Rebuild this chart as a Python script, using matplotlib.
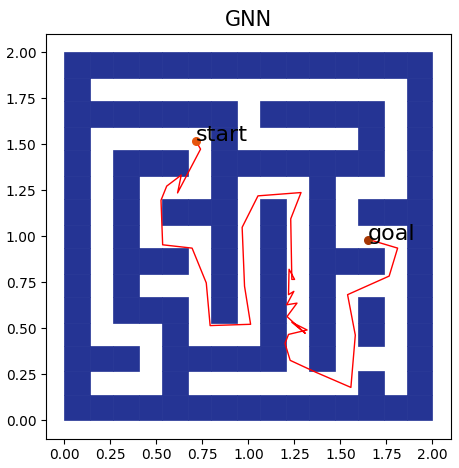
import numpy as np
import matplotlib
matplotlib.use("Agg")
from matplotlib import pyplot as plt
from matplotlib.patches import Rectangle

# maze rows top to bottom, 1 = wall
MAZE = [
    "111111111111111",
    "100000000000001",
    "111111101111101",
    "100000100000101",
    "101110111111101",
    "101000100010001",
    "101011101010111",
    "101000101010001",
    "101110101011101",
    "101000101010001",
    "101110101010101",
    "100010001010101",
    "111011111010001",
    "100010000000101",
    "111111111111111",
]
WALL_W = 0.14
PATH_W = (2.0 - 8 * WALL_W) / 7

start = (0.716, 1.516)
goal = (1.649, 0.982)
path_x = [0.716, 0.740, 0.615, 0.635, 0.556, 0.525, 0.534, 0.694, 0.771, 0.792, 1.012, 0.979,
          0.966, 1.052, 1.286, 1.230, 1.236, 1.251, 1.221, 1.218, 1.247, 1.208, 1.264, 1.210,
          1.309, 1.236, 1.319, 1.218, 1.199, 1.227, 1.365, 1.557, 1.581, 1.539, 1.765, 1.811,
          1.677, 1.649]
path_y = [1.516, 1.474, 1.236, 1.333, 1.273, 1.196, 0.954, 0.936, 0.747, 0.515, 0.522, 0.729,
          1.049, 1.220, 1.238, 1.095, 0.766, 0.766, 0.821, 0.683, 0.701, 0.628, 0.637, 0.564,
          0.473, 0.533, 0.491, 0.467, 0.418, 0.326, 0.262, 0.179, 0.463, 0.683, 0.784, 0.936,
          0.976, 0.982]

widths = [WALL_W if i % 2 == 0 else PATH_W for i in range(15)]
edges = np.concatenate([[0], np.cumsum(widths)])

fig, ax = plt.subplots(figsize=(4.6, 4.68), dpi=100)
for r, row in enumerate(MAZE):
    y0 = 2.0 - edges[r + 1]
    for c, ch in enumerate(row):
        if ch == '1':
            ax.add_patch(Rectangle((edges[c], y0), widths[c], widths[r],
                                   facecolor='#253494', edgecolor='#253494', lw=0.5))

ax.plot(path_x, path_y, color='red', lw=1)
ax.scatter(*start, color='#e6550d', s=30, zorder=3)
ax.scatter(*goal, color='#a63603', s=30, zorder=3)
ax.text(start[0], start[1], 'start', fontsize=16)
ax.text(goal[0], goal[1], 'goal', fontsize=16)

ax.set_xlim(-0.1, 2.1)
ax.set_ylim(-0.1, 2.1)
ax.set_aspect('equal')
ax.set_title('GNN', fontsize=15)
plt.subplots_adjust(left=0.1, right=0.98, bottom=0.06, top=0.93)
plt.savefig('out.png')
